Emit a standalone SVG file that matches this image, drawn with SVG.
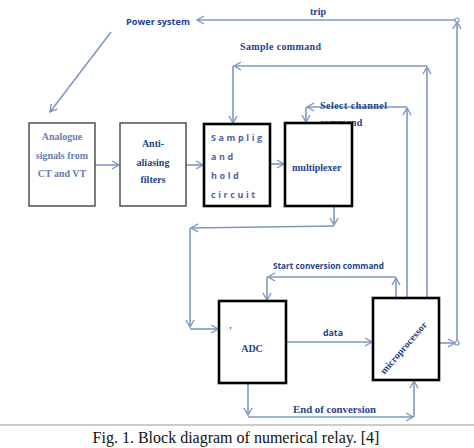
<svg xmlns="http://www.w3.org/2000/svg" width="474" height="448" viewBox="0 0 474 448">
<defs>
<marker id="ah" markerUnits="userSpaceOnUse" viewBox="-8 -5 9 10" refX="0" refY="0" markerWidth="9" markerHeight="10" orient="auto">
<path d="M-7,-4 L0,0 L-7,4" fill="none" stroke="#7e98c2" stroke-width="1.4"/>
</marker>
</defs>
<style>
.ln{fill:none;stroke:#7e98c2;stroke-width:1.6}
.ar{marker-end:url(#ah)}
.thin{fill:#fff;stroke:#444;stroke-width:1.4}
.thick{fill:#fff;stroke:#000;stroke-width:2.6}
.tb{font-family:"Liberation Serif",serif;font-weight:bold;fill:#23458a;font-size:10px}
.sb{font-family:"Open Sans","Liberation Sans",sans-serif;font-weight:bold;fill:#23458a;font-size:9px}
</style>
<rect width="474" height="448" fill="#fff"/>
<g id="connectors">
<path class="ln ar" d="M111,32 L50,112"/>
<path class="ln ar" d="M439,343 H455"/>
<circle cx="457" cy="343" r="2" fill="#fff" stroke="#7e98c2" stroke-width="1.2"/>
<path class="ln ar" d="M457,341 V22"/>
<circle cx="457" cy="20" r="2" fill="#fff" stroke="#7e98c2" stroke-width="1.2"/>
<path class="ln ar" d="M455,20 H197"/>
<path class="ln ar" d="M427,298 V67"/>
<path class="ln ar" d="M427,66 H234"/>
<path class="ln ar" d="M233,66 V123"/>
<path class="ln ar" d="M407,298 V108"/>
<path class="ln ar" d="M407,107 H307"/>
<path class="ln ar" d="M306,107 V122"/>
<path class="ln ar" d="M396,298 V278"/>
<path class="ln ar" d="M396,277 H268"/>
<path class="ln ar" d="M267,277 V300"/>
<path class="ln ar" d="M334,207 V225"/>
<path class="ln ar" d="M334,226 L191,228"/>
<path class="ln ar" d="M190,228 V327"/>
<path class="ln ar" d="M190,329 H218"/>
<path class="ln ar" d="M286,342 H372"/>
<path class="ln ar" d="M248,384 V415"/>
<path class="ln ar" d="M248,417 H413"/>
<path class="ln ar" d="M414,417 V381"/>
<path class="ln ar" d="M95,165 H119"/>
<path class="ln ar" d="M186,165 H203"/>
<path class="ln ar" d="M270,164 H284"/>
</g>
<g id="power">
<text class="sb" x="126" y="25" font-size="9.5" textLength="64" lengthAdjust="spacingAndGlyphs">Power  system</text>
</g>
<g id="labels">
<text class="tb" x="310" y="15">trip</text>
<text class="tb" x="240" y="50" textLength="81" lengthAdjust="spacing">Sample  command</text>
<text class="tb" x="320" y="109" textLength="67" lengthAdjust="spacing">Select  channel</text>
<text class="tb" x="320" y="126">command</text>
<text class="sb" x="273" y="269" textLength="111" lengthAdjust="spacingAndGlyphs">Start conversion command</text>
<text class="sb" x="323" y="336" font-size="10" textLength="20" lengthAdjust="spacingAndGlyphs">data</text>
<text class="tb" x="293" y="413" font-size="11" textLength="83" lengthAdjust="spacingAndGlyphs">End of conversion</text>
</g>
<g id="analogue">
<rect class="thin" x="29" y="123" width="66" height="83"/>
<text class="tb" x="62" y="140" text-anchor="middle" style="fill:#6a7dab">Analogue</text>
<text class="tb" x="62" y="159" text-anchor="middle" style="fill:#6a7dab">signals from</text>
<text class="tb" x="62" y="177" text-anchor="middle" style="fill:#6a7dab">CT and VT</text>
</g>
<g id="antialiasing">
<rect class="thin" x="120" y="123" width="66" height="83"/>
<text class="tb" x="153" y="147" text-anchor="middle" font-size="12">Anti-</text>
<text class="tb" x="153" y="166" text-anchor="middle" font-size="12">aliasing</text>
<text class="tb" x="153" y="183" text-anchor="middle" font-size="12">filters</text>
</g>
<g id="sampling">
<rect class="thick" x="204" y="124" width="66" height="82"/>
<text class="sb" x="211" y="141" style="fill:#4f64a0" letter-spacing="2.6">Samplig</text>
<text class="sb" x="211" y="160" style="fill:#4f64a0" letter-spacing="2.6">and</text>
<text class="sb" x="211" y="179" style="fill:#4f64a0" letter-spacing="2.6">hold</text>
<text class="sb" x="211" y="198" style="fill:#4f64a0" letter-spacing="2.6">circuit</text>
</g>
<g id="multiplexer">
<rect class="thick" x="285" y="123" width="67" height="83"/>
<text class="tb" x="292" y="171">multiplexer</text>
</g>
<g id="adc">
<rect class="thick" x="219" y="301" width="67" height="82"/>
<text class="tb" x="229" y="334" font-size="7">'</text>
<text class="tb" x="252" y="352" text-anchor="middle" font-size="11">ADC</text>
</g>
<g id="microprocessor">
<rect class="thick" x="373" y="298" width="66" height="82"/>
<text class="tb" x="0" y="0" text-anchor="middle" font-size="11.5" transform="translate(406,350) rotate(-49)">microprocessor</text>
</g>
<g id="caption">
<line x1="0" y1="425" x2="474" y2="425" stroke="#999" stroke-width="1"/>
<text x="236" y="443" text-anchor="middle" font-family="Liberation Serif,serif" font-size="16" fill="#111">Fig. 1. Block diagram of numerical relay. [4]</text>
</g>
</svg>
